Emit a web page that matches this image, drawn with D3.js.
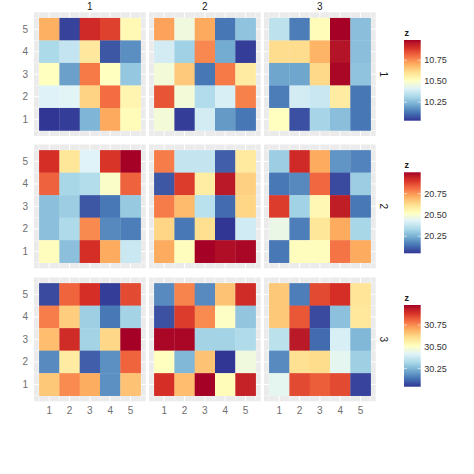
<!DOCTYPE html>
<html><head><meta charset="utf-8">
<script src="https://cdn.jsdelivr.net/npm/d3@7"></script>
<style>body{margin:0;background:#fff}svg{display:block;font-family:"Liberation Sans",Arial,sans-serif}</style>
</head><body><svg id="c" width="474" height="474"></svg>
<script>
// ---- data ----
const xLevels = [1, 2, 3, 4, 5];
const yLevels = [5, 4, 3, 2, 1];            // rows of each grid, top to bottom
const colFacets = ["1", "2", "3"];
const rowFacets = ["1", "2", "3"];
const legendTicks = [[10.25, 10.50, 10.75], [20.25, 20.50, 20.75], [30.25, 30.50, 30.75]];
const palette = ["#313695","#4575b4","#74add1","#abd9e9","#e0f3f8","#ffffbf","#fee090","#fdae61","#f46d43","#d73027","#a50026"];

// z values: zRow{r}Col{c}[row y=5..1][x=1..5]
const zRow1Col1 = [[10.70,10.05,10.91,10.87,10.53],[10.32,10.36,10.58,10.08,10.17],[10.51,10.20,10.78,10.51,10.28],[10.41,10.42,10.63,10.80,10.54],[10.03,10.04,10.24,10.71,10.52]];
const zRow1Col2 = [[10.72,10.46,10.71,10.13,10.27],[10.39,10.30,10.76,10.22,10.04],[10.47,10.65,10.13,10.78,10.57],[10.84,10.47,10.33,10.40,10.77],[10.47,10.04,10.39,10.19,10.13]];
const zRow1Col3 = [[10.35,10.14,10.52,10.99,10.26],[10.61,10.61,10.69,10.96,10.26],[10.21,10.21,10.62,10.98,10.27],[10.14,10.39,10.37,10.57,10.13],[10.51,10.07,10.31,10.26,10.13]];
const zRow2Col1 = [[20.91,20.60,20.43,20.90,21.00],[20.83,20.33,20.35,20.51,20.83],[20.28,20.31,20.10,20.15,20.30],[20.28,20.34,20.77,20.18,20.16],[20.53,20.28,20.91,20.72,20.39]];
const zRow2Col2 = [[20.79,20.38,20.38,20.11,20.59],[20.10,20.89,20.58,20.96,20.65],[20.79,20.69,20.36,20.13,20.64],[20.64,20.15,20.62,20.05,20.40],[20.72,20.53,21.00,20.98,20.99]];
const zRow2Col3 = [[20.31,20.92,20.72,20.20,20.17],[20.15,20.18,20.82,20.08,20.31],[20.89,20.32,20.55,20.95,20.15],[20.46,20.16,20.60,20.72,20.33],[20.15,20.53,20.53,20.80,20.72]];
const zRow3Col1 = [[30.07,30.81,30.89,30.05,30.85],[30.77,30.64,30.30,30.14,30.31],[30.67,30.90,30.31,30.62,30.98],[30.17,30.57,30.10,30.18,30.81],[30.65,30.75,30.70,30.18,30.66]];
const zRow3Col2 = [[30.17,30.76,30.17,30.66,30.90],[30.08,30.87,30.75,30.50,30.28],[30.97,30.97,30.31,30.31,30.33],[30.51,30.25,30.66,30.04,30.46],[30.89,30.67,30.98,30.52,30.92]];
const zRow3Col3 = [[30.65,30.15,30.85,30.89,30.59],[30.65,30.83,30.07,30.27,30.58],[30.35,30.94,30.12,30.40,30.25],[30.17,30.60,30.61,30.43,30.30],[30.43,30.85,30.82,30.85,30.06]];

const grids = [[zRow1Col1, zRow1Col2, zRow1Col3],[zRow2Col1, zRow2Col2, zRow2Col3],[zRow3Col1, zRow3Col2, zRow3Col3]];

// ---- layout ----
const panelX = [34, 149, 264], panelW = 111.7;
const panelY = [12.3, 144.5, 277.5], panelH = 123.8;
const legX = 404, legW = 16.7;
const legBarY = [[40, 120.7], [172.3, 253.3], [305, 386.7]];

const svg = d3.select("#c");
const defs = svg.append("defs");
const x = d3.scaleLinear().domain([0.25, 5.75]).range([0, panelW]);
const y = d3.scaleLinear().domain([0.25, 5.75]).range([panelH, 0]);
const axisCol = "#6e6e6e";

rowFacets.forEach((rf, r) => {
  const flat = grids[r].flat(2);
  const ext = d3.extent(flat);
  const color = d3.scaleLinear()
    .domain(palette.map((_, i) => ext[0] + (ext[1] - ext[0]) * i / (palette.length - 1)))
    .range(palette).interpolate(d3.interpolateLab);

  colFacets.forEach((cf, c) => {
    const g = svg.append("g").attr("transform", `translate(${panelX[c]},${panelY[r]})`);
    g.append("rect").attr("width", panelW).attr("height", panelH).attr("fill", "#ebebeb");
    const minor = [0.5, 1.5, 2.5, 3.5, 4.5, 5.5];
    g.selectAll(".vmin").data(minor).join("line").attr("x1", d => x(d)).attr("x2", d => x(d))
      .attr("y1", 0).attr("y2", panelH).attr("stroke", "#fff").attr("stroke-width", 0.5);
    g.selectAll(".hmin").data(minor).join("line").attr("y1", d => y(d)).attr("y2", d => y(d))
      .attr("x1", 0).attr("x2", panelW).attr("stroke", "#fff").attr("stroke-width", 0.5);
    g.selectAll(".vmaj").data(xLevels).join("line").attr("x1", d => x(d)).attr("x2", d => x(d))
      .attr("y1", 0).attr("y2", panelH).attr("stroke", "#fff").attr("stroke-width", 1);
    g.selectAll(".hmaj").data(xLevels).join("line").attr("y1", d => y(d)).attr("y2", d => y(d))
      .attr("x1", 0).attr("x2", panelW).attr("stroke", "#fff").attr("stroke-width", 1);

    const cells = [];
    grids[r][c].forEach((row, i) => row.forEach((z, j) => cells.push({ x: xLevels[j], y: yLevels[i], z })));
    g.selectAll(".tile").data(cells).join("rect")
      .attr("x", d => x(d.x - 0.5)).attr("y", d => y(d.y + 0.5))
      .attr("width", d => x(d.x + 0.5) - x(d.x - 0.5) + 0.3)
      .attr("height", d => y(d.y - 0.5) - y(d.y + 0.5) + 0.3)
      .attr("fill", d => color(d.z));

    if (c === 0) {
      g.selectAll(".yl").data(xLevels).join("text").attr("x", -6).attr("y", d => y(d))
        .attr("dy", "0.35em").attr("text-anchor", "end").attr("font-size", 10).attr("fill", axisCol).text(d => d);
    }
    if (r === 2) {
      g.selectAll(".xl").data(xLevels).join("text").attr("x", d => x(d)).attr("y", panelH + 12.5)
        .attr("text-anchor", "middle").attr("font-size", 10).attr("fill", axisCol).text(d => d);
    }
    if (r === 0) {
      g.append("text").attr("x", panelW / 2).attr("y", -2.5).attr("text-anchor", "middle")
        .attr("font-size", 10).attr("fill", "#1a1a1a").text(cf);
    }
    if (c === 2) {
      g.append("text").attr("transform", `translate(${panelW + 4.5},${panelH / 2}) rotate(90)`)
        .attr("text-anchor", "middle").attr("font-size", 10).attr("fill", "#1a1a1a").text(rf);
    }
  });

  // legend
  const [y0, y1] = legBarY[r];
  const gid = "grad" + r;
  const grad = defs.append("linearGradient").attr("id", gid).attr("x1", 0).attr("x2", 0).attr("y1", 1).attr("y2", 0);
  d3.range(0, 1.0001, 0.05).forEach(t => grad.append("stop").attr("offset", t).attr("stop-color", color(ext[0] + t * (ext[1] - ext[0]))));
  const lg = svg.append("g");
  lg.append("text").attr("x", legX + 0.5).attr("y", y0 - 4).attr("font-size", 9).attr("font-weight", "bold").attr("fill", "#1a1a1a").text("z");
  lg.append("rect").attr("x", legX).attr("y", y0).attr("width", legW).attr("height", y1 - y0).attr("fill", `url(#${gid})`);
  const ls = d3.scaleLinear().domain(ext).range([y1, y0]);
  legendTicks[r].forEach(t => {
    lg.append("line").attr("x1", legX).attr("x2", legX + 3).attr("y1", ls(t)).attr("y2", ls(t)).attr("stroke", "#fff").attr("stroke-width", 0.6);
    lg.append("line").attr("x1", legX + legW - 3).attr("x2", legX + legW).attr("y1", ls(t)).attr("y2", ls(t)).attr("stroke", "#fff").attr("stroke-width", 0.6);
    lg.append("text").attr("x", legX + legW + 3.5).attr("y", ls(t)).attr("dy", "0.35em")
      .attr("font-size", 9).attr("fill", "#333").text(d3.format(".2f")(t));
  });
});
</script></body></html>
